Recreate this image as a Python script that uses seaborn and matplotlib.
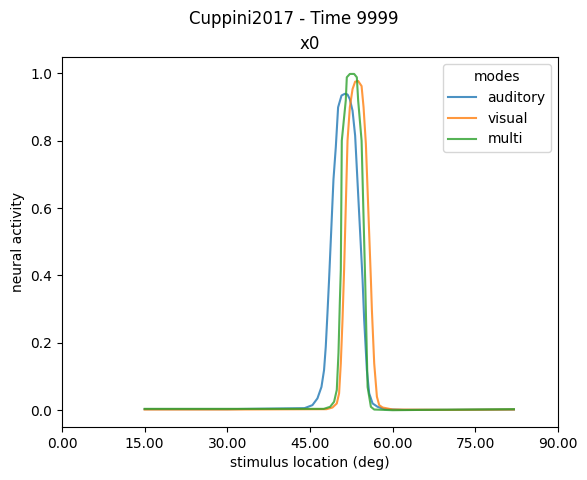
import matplotlib
matplotlib.use("Agg")
import matplotlib.pyplot as plt
import matplotlib.ticker as mticker
import pandas as pd
import seaborn as sns

# values
auditory_x = [15.0, 30.0, 44.0, 45.44, 46.35, 47.08, 47.55, 47.86, 48.17, 48.46, 49.26, 49.68,
              50.10, 50.72, 51.32, 51.81, 52.23, 52.72, 53.19, 54.54, 54.83, 55.32, 55.74,
              56.36, 57.27, 58.5, 62.0, 70.0, 82.0]
auditory_y = [0.003, 0.003, 0.006, 0.015, 0.035, 0.069, 0.119, 0.188, 0.288, 0.387, 0.685, 0.78,
              0.899, 0.934, 0.939, 0.937, 0.923, 0.889, 0.815, 0.387, 0.268, 0.119, 0.05,
              0.02, 0.01, 0.003, 0.001, 0.001, 0.002]

visual_x = [15.0, 30.0, 48.0, 49.08, 49.86, 50.28, 50.59, 50.90, 51.19, 51.81, 52.23, 52.72,
            53.19, 53.74, 54.36, 54.72, 55.14, 56.05, 56.23, 56.65, 57.14, 57.56, 58.17,
            60.0, 70.0, 82.0]
visual_y = [0.002, 0.002, 0.003, 0.008, 0.02, 0.05, 0.139, 0.268, 0.417, 0.80, 0.899, 0.953,
            0.975, 0.977, 0.962, 0.899, 0.79, 0.387, 0.298, 0.139, 0.04, 0.015, 0.008,
            0.002, 0.001, 0.002]

multi_x = [15.0, 30.0, 47.5, 48.65, 49.37, 49.86, 50.17, 50.41, 50.59, 50.77, 51.49, 51.68,
           52.23, 53.01, 53.50, 53.74, 54.36, 55.01, 55.45, 56.05, 56.65, 60.0, 66.0, 82.0]
multi_y = [0.004, 0.004, 0.004, 0.01, 0.025, 0.06, 0.17, 0.318, 0.417, 0.80, 0.919, 0.988,
           0.998, 0.998, 0.988, 0.919, 0.80, 0.387, 0.069, 0.01, 0.002, 0.0, 0.001, 0.003]

modes = ["auditory", "visual", "multi"]
series = {
    "auditory": (auditory_x, auditory_y),
    "visual": (visual_x, visual_y),
    "multi": (multi_x, multi_y),
}

rows = []
for mode in modes:
    xs, ys = series[mode]
    for x, y in zip(xs, ys):
        rows.append({"stimulus location (deg)": x, "neural activity": y, "modes": mode})
df = pd.DataFrame(rows)

fig, ax = plt.subplots(figsize=(5.87, 4.8), dpi=100)
sns.lineplot(data=df, x="stimulus location (deg)", y="neural activity", hue="modes",
             hue_order=modes, alpha=0.8, ax=ax)

ax.set_xlim(0, 90)
ax.set_xticks([0, 15, 30, 45, 60, 75, 90])
ax.xaxis.set_major_formatter(mticker.FormatStrFormatter("%.2f"))
ax.set_title("x0")
fig.suptitle("Cuppini2017 - Time 9999")
ax.legend(title="modes", loc="upper right")

fig.subplots_adjust(left=0.1056, right=0.9506, top=0.881, bottom=0.1104)
fig.savefig("out.png")
